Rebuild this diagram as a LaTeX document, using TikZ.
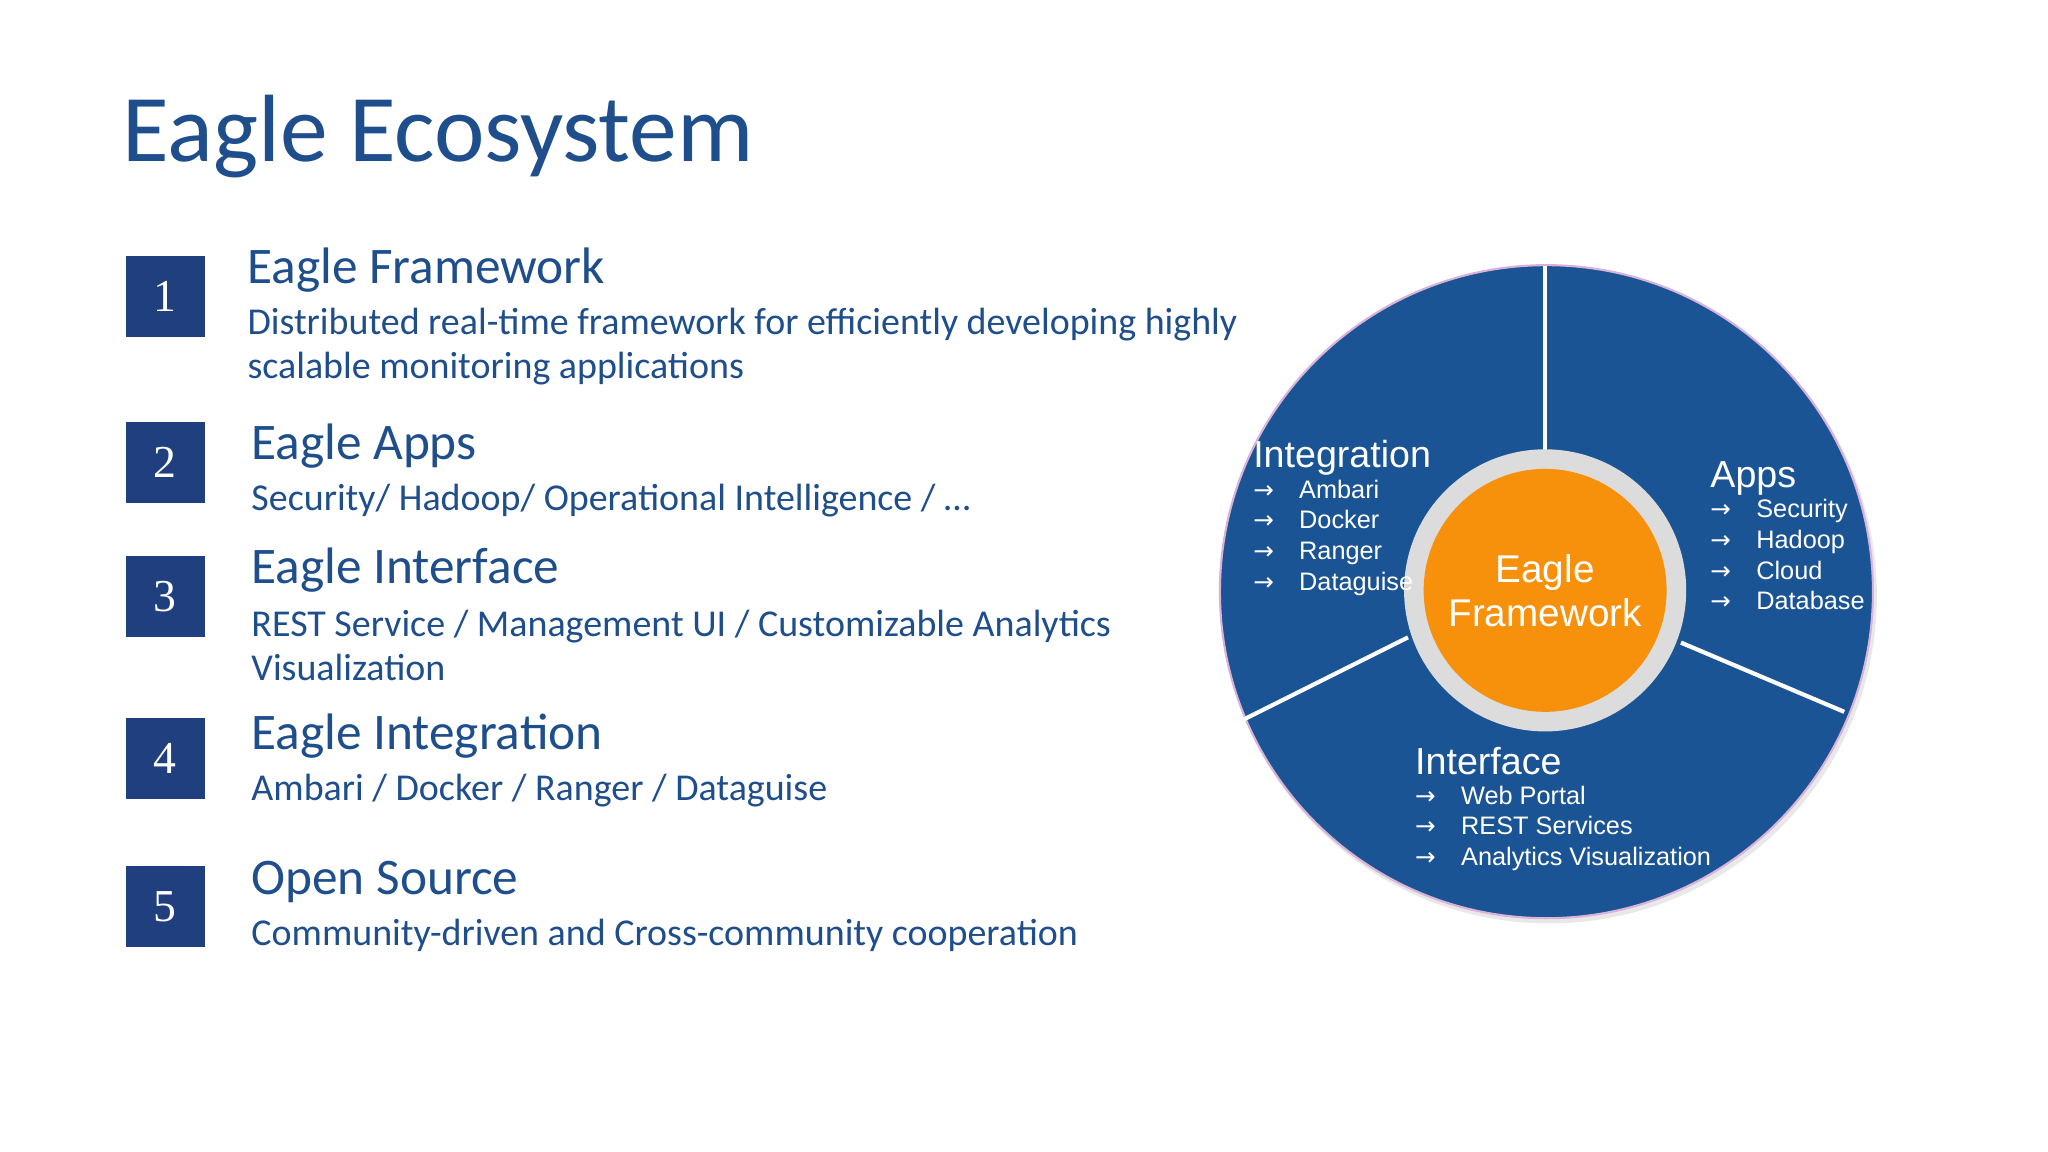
\documentclass[tikz,border=0pt]{standalone}
\usepackage{fontspec}
\setmainfont{Carlito}
\newfontfamily\arialf{Liberation Sans}
\newfontfamily\serf{Liberation Serif}
\newfontfamily\djv{DejaVu Sans}
\definecolor{ttl}{HTML}{1F4E8C}
\definecolor{boxc}{HTML}{1F3F7F}
\definecolor{circ}{HTML}{1B5494}
\definecolor{orng}{HTML}{F7900A}
\definecolor{ring}{HTML}{DCDCDC}
\newcommand{\arr}{{\djv\fontsize{7}{8}\selectfont →}\hspace{1.0em}}
\tikzset{
 numbox/.style={fill=boxc,minimum width=0.79cm,minimum height=0.81cm,inner sep=0,text=white,font=\serf\fontsize{13}{13}\selectfont},
 head/.style={anchor=base west,text=ttl,font=\fontsize{14.6}{15}\selectfont,inner sep=0},
 desc/.style={anchor=base west,text=ttl,font=\fontsize{10.8}{12.6}\selectfont,inner sep=0,align=left},
 ctitle/.style={anchor=base west,text=white,font=\arialf\fontsize{10.7}{11}\selectfont,inner sep=0},
 clist/.style={anchor=north west,text=white,font=\arialf\fontsize{7.2}{8.7}\selectfont,inner sep=0,align=left},
 divl/.style={white,line width=1.2pt}
}
\begin{document}
\begin{tikzpicture}[x=0.01306cm,y=-0.01306cm]
\useasboundingbox[fill=white] (0,0) rectangle (1568,882);
\node[anchor=base west,text=ttl,font=\fontsize{27.2}{28}\selectfont,inner sep=0] (title) at (93,124) {Eagle Ecosystem};
% items
\node[numbox] (b1) at (126.5,227) {1};
\node[head] (h1) at (189,217) {Eagle Framework};
\node[desc] (d1) at (189,290) {Distributed real-time framework for efficiently developing highly\\scalable monitoring applications};
\node[numbox] (b2) at (126.5,354) {2};
\node[head] (h2) at (192,352) {Eagle Apps};
\node[desc] (d2) at (192,391) {Security/ Hadoop/ Operational Intelligence / …};
\node[numbox] (b3) at (126.5,457) {3};
\node[head] (h3) at (192,447) {Eagle Interface};
\node[desc] (d3) at (192,521) {REST Service / Management UI / Customizable Analytics\\Visualization};
\node[numbox] (b4) at (126.5,581) {4};
\node[head] (h4) at (192,574) {Eagle Integration};
\node[desc] (d4) at (192,613) {Ambari / Docker / Ranger / Dataguise};
\node[numbox] (b5) at (126.5,694) {5};
\node[head] (h5) at (192,685) {Open Source};
\node[desc] (d5) at (192,724) {Community-driven and Cross-community cooperation};
% circle
\fill[gray!18] (1186,456) circle (251);
\node[circle,fill=circ,draw=violet!30,line width=0.6pt,minimum size=250*2*0.01306cm,inner sep=0] (big) at (1184,453) {};
\draw[divl] (1183,204) -- (1183,345);
\draw[divl] (1078,488) -- (950,552);
\draw[divl] (1287,492) -- (1412,545);
\node[circle,fill=ring,minimum size=216*0.01306cm,inner sep=0] (rg) at (1183,452) {};
\node[circle,fill=orng,minimum size=186*0.01306cm,inner sep=0,text=white,font=\arialf\fontsize{11}{12.5}\selectfont,align=center] (core) at (1183,452) {Eagle\\Framework};
\node[ctitle] (ti) at (959,358) {Integration};
\node[clist] (li) at (959,367) {\arr Ambari\\\arr Docker\\\arr Ranger\\\arr Dataguise};
\node[ctitle] (ta) at (1309,373) {Apps};
\node[clist] (la) at (1309,382) {\arr Security\\\arr Hadoop\\\arr Cloud\\\arr Database};
\node[ctitle] (tf) at (1083,593) {Interface};
\node[clist] (lf) at (1083,601) {\arr Web Portal\\\arr REST Services\\\arr Analytics Visualization};
\end{tikzpicture}
\end{document}
